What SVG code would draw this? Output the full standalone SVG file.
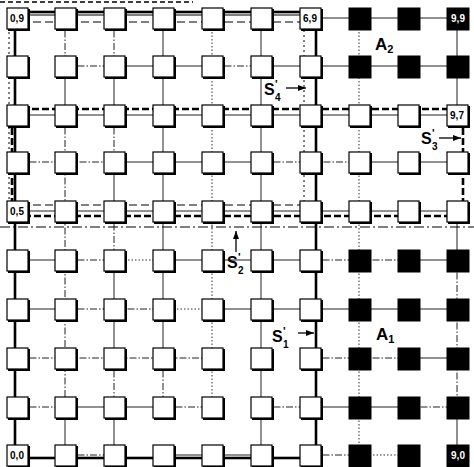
<svg xmlns="http://www.w3.org/2000/svg" xmlns:xlink="http://www.w3.org/1999/xlink" width="474" height="467" viewBox="0 0 474 467">
<style>
.s{fill:none;stroke:#222;stroke-width:1}
.d{fill:none;stroke:#222;stroke-width:1;stroke-dasharray:7 2 1.5 2}
.o{fill:none;stroke:#333;stroke-width:1;stroke-dasharray:1.5 2}
.lbl{font-family:"Liberation Sans",Arial,sans-serif;font-weight:bold;font-size:10px;text-anchor:middle}
.big{font-family:"Liberation Sans",Arial,sans-serif;font-weight:bold;font-size:17px}
.sl{font-family:"Liberation Sans",Arial,sans-serif;font-weight:bold;font-size:16px}
.sp{font-family:"Liberation Sans",Arial,sans-serif;font-weight:bold;font-size:11px}
.sb{font-family:"Liberation Sans",Arial,sans-serif;font-weight:bold;font-size:10px}
.sub{font-size:11px}
</style>
<defs>
<g id="sqw"><rect x="-10" y="-10" width="21" height="21" fill="#fff" stroke="#000" stroke-width="1.2"/><path d="M12,-9 V12 H-9" fill="none" stroke="#000" stroke-width="2"/></g>
<g id="sqb"><rect x="-10" y="-10" width="22" height="22" fill="#000" stroke="#000" stroke-width="1"/></g>
<marker id="ah" viewBox="0 0 8 6" refX="8" refY="3" markerWidth="8" markerHeight="6" orient="auto" markerUnits="userSpaceOnUse"><path d="M0,0 L8,3 L0,6 z" fill="#000"/></marker>
</defs>
<rect width="474" height="467" fill="#fff"/>
<g id="connectors">
<path class="s" d="M311,18 H457 M114,66 H212 M261,66 H457 M17,115 H457 M114,162 H261 M359,162 H457 M17,211 H457 M17,260 H65 M163,260 H310 M408,260 H457 M17,309 H65 M212,309 H457 M408,358 H457 M65,407 H163 M310,407 H408 M163,455 H261"/>
<path class="d" d="M65,66 H114 M212,66 H261 M17,162 H114 M261,162 H359 M65,260 H114 M310,260 H408 M65,309 H163 M17,358 H212 M310,358 H408 M17,407 H65 M163,407 H212 M261,407 H310 M408,407 H457 M65,455 H114 M310,455 H359"/>
<path class="o" d="M114,260 H163 M163,309 H212 M359,455 H408"/>
<path class="s" d="M65,66 V115 M114,66 V115 M114,162 V211 M114,260 V358 M114,407 V455 M65,407 V455 M163,18 V358 M261,18 V455 M457,18 V115 M457,211 V260 M457,407 V455"/>
<path class="d" d="M65,18 V66 M65,115 V407 M114,18 V66 M114,115 V162 M114,211 V260 M114,358 V407 M163,358 V407 M457,260 V407"/>
<path class="o" d="M212,18 V407 M359,18 V455"/>
<path d="M0,2 H193" fill="none" stroke="#000" stroke-width="1.5" stroke-dasharray="5 3"/>
<path d="M25,15 H300" fill="none" stroke="#000" stroke-width="1"/>
<path d="M9,22 H304" fill="none" stroke="#000" stroke-width="1" stroke-dasharray="8 4"/>
<path d="M304,30 V205 M9,22 V205" fill="none" stroke="#000" stroke-width="1" stroke-dasharray="2 3"/>
<path d="M9,205 H300" fill="none" stroke="#000" stroke-width="1" stroke-dasharray="8 4"/>
<rect x="15" y="12" width="301" height="446" fill="none" stroke="#000" stroke-width="2.6"/>
<rect x="12" y="109" width="451" height="107" fill="none" stroke="#000" stroke-width="2.6" stroke-dasharray="7 3"/>
<path d="M0,227 H474" fill="none" stroke="#000" stroke-width="1.2" stroke-dasharray="10 3 2 3"/>
<path d="M236,252 V231" fill="none" stroke="#000" stroke-width="1.3" marker-end="url(#ah)"/>
<path d="M286,88 H306" fill="none" stroke="#000" stroke-width="1.3" marker-end="url(#ah)"/>
<path d="M298,333 H314" fill="none" stroke="#000" stroke-width="1.3" marker-end="url(#ah)"/>
<path d="M439,138 H461" fill="none" stroke="#000" stroke-width="1.3" marker-end="url(#ah)"/>
</g>
<g id="n0-9"><use xlink:href="#sqw" x="17" y="18"/><text class="lbl" x="17" y="22">0,9</text></g>
<g id="n1-9"><use xlink:href="#sqw" x="65" y="18"/></g>
<g id="n2-9"><use xlink:href="#sqw" x="114" y="18"/></g>
<g id="n3-9"><use xlink:href="#sqw" x="163" y="18"/></g>
<g id="n4-9"><use xlink:href="#sqw" x="212" y="18"/></g>
<g id="n5-9"><use xlink:href="#sqw" x="261" y="18"/></g>
<g id="n6-9"><use xlink:href="#sqw" x="310" y="18"/><text class="lbl" x="310" y="22">6,9</text></g>
<g id="n7-9"><use xlink:href="#sqb" x="359" y="18"/></g>
<g id="n8-9"><use xlink:href="#sqb" x="408" y="18"/></g>
<g id="n9-9"><use xlink:href="#sqb" x="457" y="18"/><text class="lbl" x="458" y="22" fill="#fff">9,9</text></g>
<g id="n0-8"><use xlink:href="#sqw" x="17" y="66"/></g>
<g id="n1-8"><use xlink:href="#sqw" x="65" y="66"/></g>
<g id="n2-8"><use xlink:href="#sqw" x="114" y="66"/></g>
<g id="n3-8"><use xlink:href="#sqw" x="163" y="66"/></g>
<g id="n4-8"><use xlink:href="#sqw" x="212" y="66"/></g>
<g id="n5-8"><use xlink:href="#sqw" x="261" y="66"/></g>
<g id="n6-8"><use xlink:href="#sqw" x="310" y="66"/></g>
<g id="n7-8"><use xlink:href="#sqb" x="359" y="66"/></g>
<g id="n8-8"><use xlink:href="#sqb" x="408" y="66"/></g>
<g id="n9-8"><use xlink:href="#sqb" x="457" y="66"/></g>
<g id="n0-7"><use xlink:href="#sqw" x="17" y="115"/></g>
<g id="n1-7"><use xlink:href="#sqw" x="65" y="115"/></g>
<g id="n2-7"><use xlink:href="#sqw" x="114" y="115"/></g>
<g id="n3-7"><use xlink:href="#sqw" x="163" y="115"/></g>
<g id="n4-7"><use xlink:href="#sqw" x="212" y="115"/></g>
<g id="n5-7"><use xlink:href="#sqw" x="261" y="115"/></g>
<g id="n6-7"><use xlink:href="#sqw" x="310" y="115"/></g>
<g id="n7-7"><use xlink:href="#sqw" x="359" y="115"/></g>
<g id="n8-7"><use xlink:href="#sqw" x="408" y="115"/></g>
<g id="n9-7"><use xlink:href="#sqw" x="457" y="115"/><text class="lbl" x="457" y="119">9,7</text></g>
<g id="n0-6"><use xlink:href="#sqw" x="17" y="162"/></g>
<g id="n1-6"><use xlink:href="#sqw" x="65" y="162"/></g>
<g id="n2-6"><use xlink:href="#sqw" x="114" y="162"/></g>
<g id="n3-6"><use xlink:href="#sqw" x="163" y="162"/></g>
<g id="n4-6"><use xlink:href="#sqw" x="212" y="162"/></g>
<g id="n5-6"><use xlink:href="#sqw" x="261" y="162"/></g>
<g id="n6-6"><use xlink:href="#sqw" x="310" y="162"/></g>
<g id="n7-6"><use xlink:href="#sqw" x="359" y="162"/></g>
<g id="n8-6"><use xlink:href="#sqw" x="408" y="162"/></g>
<g id="n9-6"><use xlink:href="#sqw" x="457" y="162"/></g>
<g id="n0-5"><use xlink:href="#sqw" x="17" y="211"/><text class="lbl" x="17" y="215">0,5</text></g>
<g id="n1-5"><use xlink:href="#sqw" x="65" y="211"/></g>
<g id="n2-5"><use xlink:href="#sqw" x="114" y="211"/></g>
<g id="n3-5"><use xlink:href="#sqw" x="163" y="211"/></g>
<g id="n4-5"><use xlink:href="#sqw" x="212" y="211"/></g>
<g id="n5-5"><use xlink:href="#sqw" x="261" y="211"/></g>
<g id="n6-5"><use xlink:href="#sqw" x="310" y="211"/></g>
<g id="n7-5"><use xlink:href="#sqw" x="359" y="211"/></g>
<g id="n8-5"><use xlink:href="#sqw" x="408" y="211"/></g>
<g id="n9-5"><use xlink:href="#sqw" x="457" y="211"/></g>
<g id="n0-4"><use xlink:href="#sqw" x="17" y="260"/></g>
<g id="n1-4"><use xlink:href="#sqw" x="65" y="260"/></g>
<g id="n2-4"><use xlink:href="#sqw" x="114" y="260"/></g>
<g id="n3-4"><use xlink:href="#sqw" x="163" y="260"/></g>
<g id="n4-4"><use xlink:href="#sqw" x="212" y="260"/></g>
<g id="n5-4"><use xlink:href="#sqw" x="261" y="260"/></g>
<g id="n6-4"><use xlink:href="#sqw" x="310" y="260"/></g>
<g id="n7-4"><use xlink:href="#sqb" x="359" y="260"/></g>
<g id="n8-4"><use xlink:href="#sqb" x="408" y="260"/></g>
<g id="n9-4"><use xlink:href="#sqb" x="457" y="260"/></g>
<g id="n0-3"><use xlink:href="#sqw" x="17" y="309"/></g>
<g id="n1-3"><use xlink:href="#sqw" x="65" y="309"/></g>
<g id="n2-3"><use xlink:href="#sqw" x="114" y="309"/></g>
<g id="n3-3"><use xlink:href="#sqw" x="163" y="309"/></g>
<g id="n4-3"><use xlink:href="#sqw" x="212" y="309"/></g>
<g id="n5-3"><use xlink:href="#sqw" x="261" y="309"/></g>
<g id="n6-3"><use xlink:href="#sqw" x="310" y="309"/></g>
<g id="n7-3"><use xlink:href="#sqb" x="359" y="309"/></g>
<g id="n8-3"><use xlink:href="#sqb" x="408" y="309"/></g>
<g id="n9-3"><use xlink:href="#sqb" x="457" y="309"/></g>
<g id="n0-2"><use xlink:href="#sqw" x="17" y="358"/></g>
<g id="n1-2"><use xlink:href="#sqw" x="65" y="358"/></g>
<g id="n2-2"><use xlink:href="#sqw" x="114" y="358"/></g>
<g id="n3-2"><use xlink:href="#sqw" x="163" y="358"/></g>
<g id="n4-2"><use xlink:href="#sqw" x="212" y="358"/></g>
<g id="n5-2"><use xlink:href="#sqw" x="261" y="358"/></g>
<g id="n6-2"><use xlink:href="#sqw" x="310" y="358"/></g>
<g id="n7-2"><use xlink:href="#sqb" x="359" y="358"/></g>
<g id="n8-2"><use xlink:href="#sqb" x="408" y="358"/></g>
<g id="n9-2"><use xlink:href="#sqb" x="457" y="358"/></g>
<g id="n0-1"><use xlink:href="#sqw" x="17" y="407"/></g>
<g id="n1-1"><use xlink:href="#sqw" x="65" y="407"/></g>
<g id="n2-1"><use xlink:href="#sqw" x="114" y="407"/></g>
<g id="n3-1"><use xlink:href="#sqw" x="163" y="407"/></g>
<g id="n4-1"><use xlink:href="#sqw" x="212" y="407"/></g>
<g id="n5-1"><use xlink:href="#sqw" x="261" y="407"/></g>
<g id="n6-1"><use xlink:href="#sqw" x="310" y="407"/></g>
<g id="n7-1"><use xlink:href="#sqb" x="359" y="407"/></g>
<g id="n8-1"><use xlink:href="#sqb" x="408" y="407"/></g>
<g id="n9-1"><use xlink:href="#sqb" x="457" y="407"/></g>
<g id="n0-0"><use xlink:href="#sqw" x="17" y="455"/><text class="lbl" x="17" y="459">0,0</text></g>
<g id="n1-0"><use xlink:href="#sqw" x="65" y="455"/></g>
<g id="n2-0"><use xlink:href="#sqw" x="114" y="455"/></g>
<g id="n3-0"><use xlink:href="#sqw" x="163" y="455"/></g>
<g id="n4-0"><use xlink:href="#sqw" x="212" y="455"/></g>
<g id="n5-0"><use xlink:href="#sqw" x="261" y="455"/></g>
<g id="n6-0"><use xlink:href="#sqw" x="310" y="455"/></g>
<g id="n7-0"><use xlink:href="#sqb" x="359" y="455"/></g>
<g id="n8-0"><use xlink:href="#sqb" x="408" y="455"/></g>
<g id="n9-0"><use xlink:href="#sqb" x="457" y="455"/><text class="lbl" x="458" y="459" fill="#fff" font-weight="normal">9,0</text></g>
<g id="labels">
<text class="big" x="375" y="50">A<tspan class="sub" dy="3">2</tspan></text>
<text class="big" x="376" y="340">A<tspan class="sub" dy="3">1</tspan></text>
<text class="sl" x="264" y="95">S</text><text class="sp" x="275" y="88">'</text><text class="sb" x="275" y="101">4</text>
<text class="sl" x="227" y="268">S</text><text class="sp" x="238" y="261">'</text><text class="sb" x="238" y="274">2</text>
<text class="sl" x="272" y="342">S</text><text class="sp" x="283" y="335">'</text><text class="sb" x="283" y="348">1</text>
<text class="sl" x="421" y="144">S</text><text class="sp" x="432" y="137">'</text><text class="sb" x="432" y="150">3</text>
</g>
</svg>
